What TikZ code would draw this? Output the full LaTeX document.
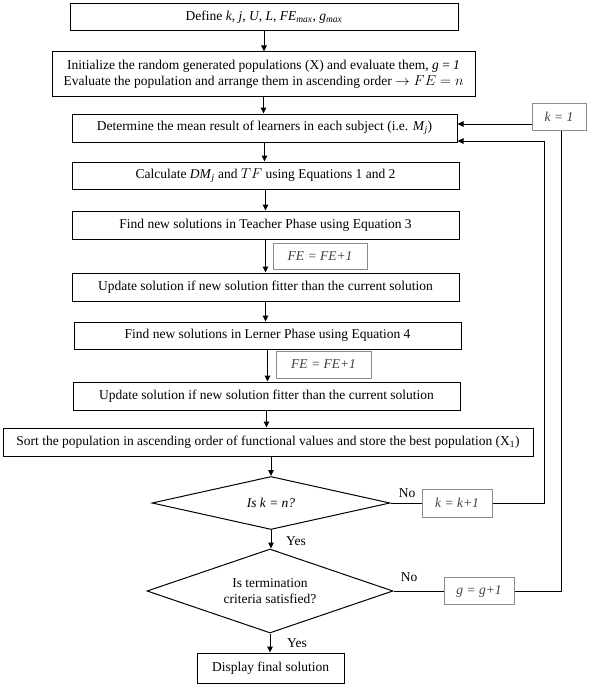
\documentclass[tikz,border=0pt]{standalone}
\usepackage{fontspec}
\setmainfont{Liberation Serif}
\usetikzlibrary{shapes.geometric,arrows.meta,calc}
\begin{document}
\begin{tikzpicture}[x=1pt,y=-1pt,
  font=\fontsize{13.5}{16}\selectfont,
  box/.style={draw=black, line width=1pt, inner sep=0pt, align=center},
  gbox/.style={draw=black!45, line width=1pt, inner sep=0pt, text=black!75, font=\fontsize{13.5}{16}\selectfont\itshape},
  dec/.style={diamond, draw=black, line width=1pt, inner sep=0pt, align=center},
  arr/.style={line width=1pt, -{Triangle[length=6pt,width=5.5pt]}},
  ln/.style={line width=1pt},
  lbl/.style={inner sep=0pt}]
\useasboundingbox (0,0) rectangle (589,685);

\node[box, minimum width=388pt, minimum height=27pt] (def) at (264,17.5)
  {Define \textit{k}, \textit{j}, \textit{U}, \textit{L}, \textit{FE}\textsubscript{\textit{max}}, \textit{g}\textsubscript{\textit{max}}};
\node[box, minimum width=423pt, minimum height=44pt] (init) at (263.5,74)
  {Initialize the random generated populations (X) and evaluate them, \textit{g} = \textit{1}\\
   Evaluate the population and arrange them in ascending order $\rightarrow FE = n$};
\node[box, minimum width=385pt, minimum height=28pt] (det) at (264.5,128)
  {Determine the mean result of learners in each subject (i.e. \textit{M}\textsubscript{\textit{j}})};
\node[box, minimum width=387pt, minimum height=27pt] (calc) at (265.5,175.5)
  {Calculate \textit{DM}\textsubscript{\textit{j}} and $TF$ using Equations 1 and 2};
\node[box, minimum width=387pt, minimum height=28pt] (teach) at (265.5,225)
  {Find new solutions in Teacher Phase using Equation 3};
\node[gbox, minimum width=94pt, minimum height=26pt] (fe1) at (320,256) {FE = FE+1};
\node[box, minimum width=387pt, minimum height=28pt] (upd1) at (265.5,287)
  {Update solution if new solution fitter than the current solution};
\node[box, minimum width=387pt, minimum height=27pt] (lern) at (267.5,335.5)
  {Find new solutions in Lerner Phase using Equation 4};
\node[gbox, minimum width=95pt, minimum height=27pt] (fe2) at (323.5,364.5) {FE = FE+1};
\node[box, minimum width=387pt, minimum height=28pt] (upd2) at (266.5,396)
  {Update solution if new solution fitter than the current solution};
\node[box, minimum width=530pt, minimum height=28pt] (sort) at (268,442)
  {Sort the population in ascending order of functional values and store the best population (X\textsubscript{1})};
\node[dec, aspect=4.5, minimum width=238pt, minimum height=53pt] (d1) at (271,503) {\textit{Is k = n?}};
\node[dec, aspect=2.9, minimum width=246pt, minimum height=84pt] (d2) at (270,591)
  {Is termination\\criteria satisfied?};
\node[box, minimum width=147pt, minimum height=30pt] (disp) at (270.5,668) {Display final solution};
\node[gbox, minimum width=70pt, minimum height=28pt] (kk) at (457,503) {k = k+1};
\node[gbox, minimum width=70pt, minimum height=27pt] (gg) at (479,591) {g = g+1};
\node[gbox, minimum width=54pt, minimum height=27pt] (k1) at (559,116.5) {k = 1};

\node[lbl] (no1) at (407,493) {No};
\node[lbl] (no2) at (409,577) {No};
\node[lbl] (yes1) at (296,541) {Yes};
\node[lbl] (yes2) at (297,643) {Yes};

% main chain
\draw[arr] (def.south) -- (def.south |- init.north);
\draw[arr] (init.south) -- (init.south |- det.north);
\draw[arr] (det.south) -- (det.south |- calc.north);
\draw[arr] (calc.south) -- (calc.south |- teach.north);
\draw[arr] (teach.south) -- (teach.south |- upd1.north);
\draw[arr] (upd1.south) -- (upd1.south |- lern.north);
\draw[arr] (lern.south) -- (lern.south |- upd2.north);
\draw[arr] (upd2.south) -- (upd2.south |- sort.north);
\draw[arr] (d1.north |- sort.south) -- (d1.north);
\draw[arr] (d1.south) -- (d1.south |- d2.north);
\draw[arr] (d2.south) -- (d2.south |- disp.north);

% loops
\coordinate (c1) at (544,141);
\draw[ln] (d1.east) -- (kk.west);
\draw[arr] (kk.east) -| (c1) -- (c1 -| det.east);
\coordinate (k1a) at ([yshift=-7.5pt]k1.west);
\draw[arr] (k1a) -- (k1a -| det.east);
\coordinate (k1b) at ([xshift=2pt]k1.south);
\draw[ln] (d2.east) -- (gg.west);
\draw[ln] (gg.east) -| (k1b);
\end{tikzpicture}
\end{document}
